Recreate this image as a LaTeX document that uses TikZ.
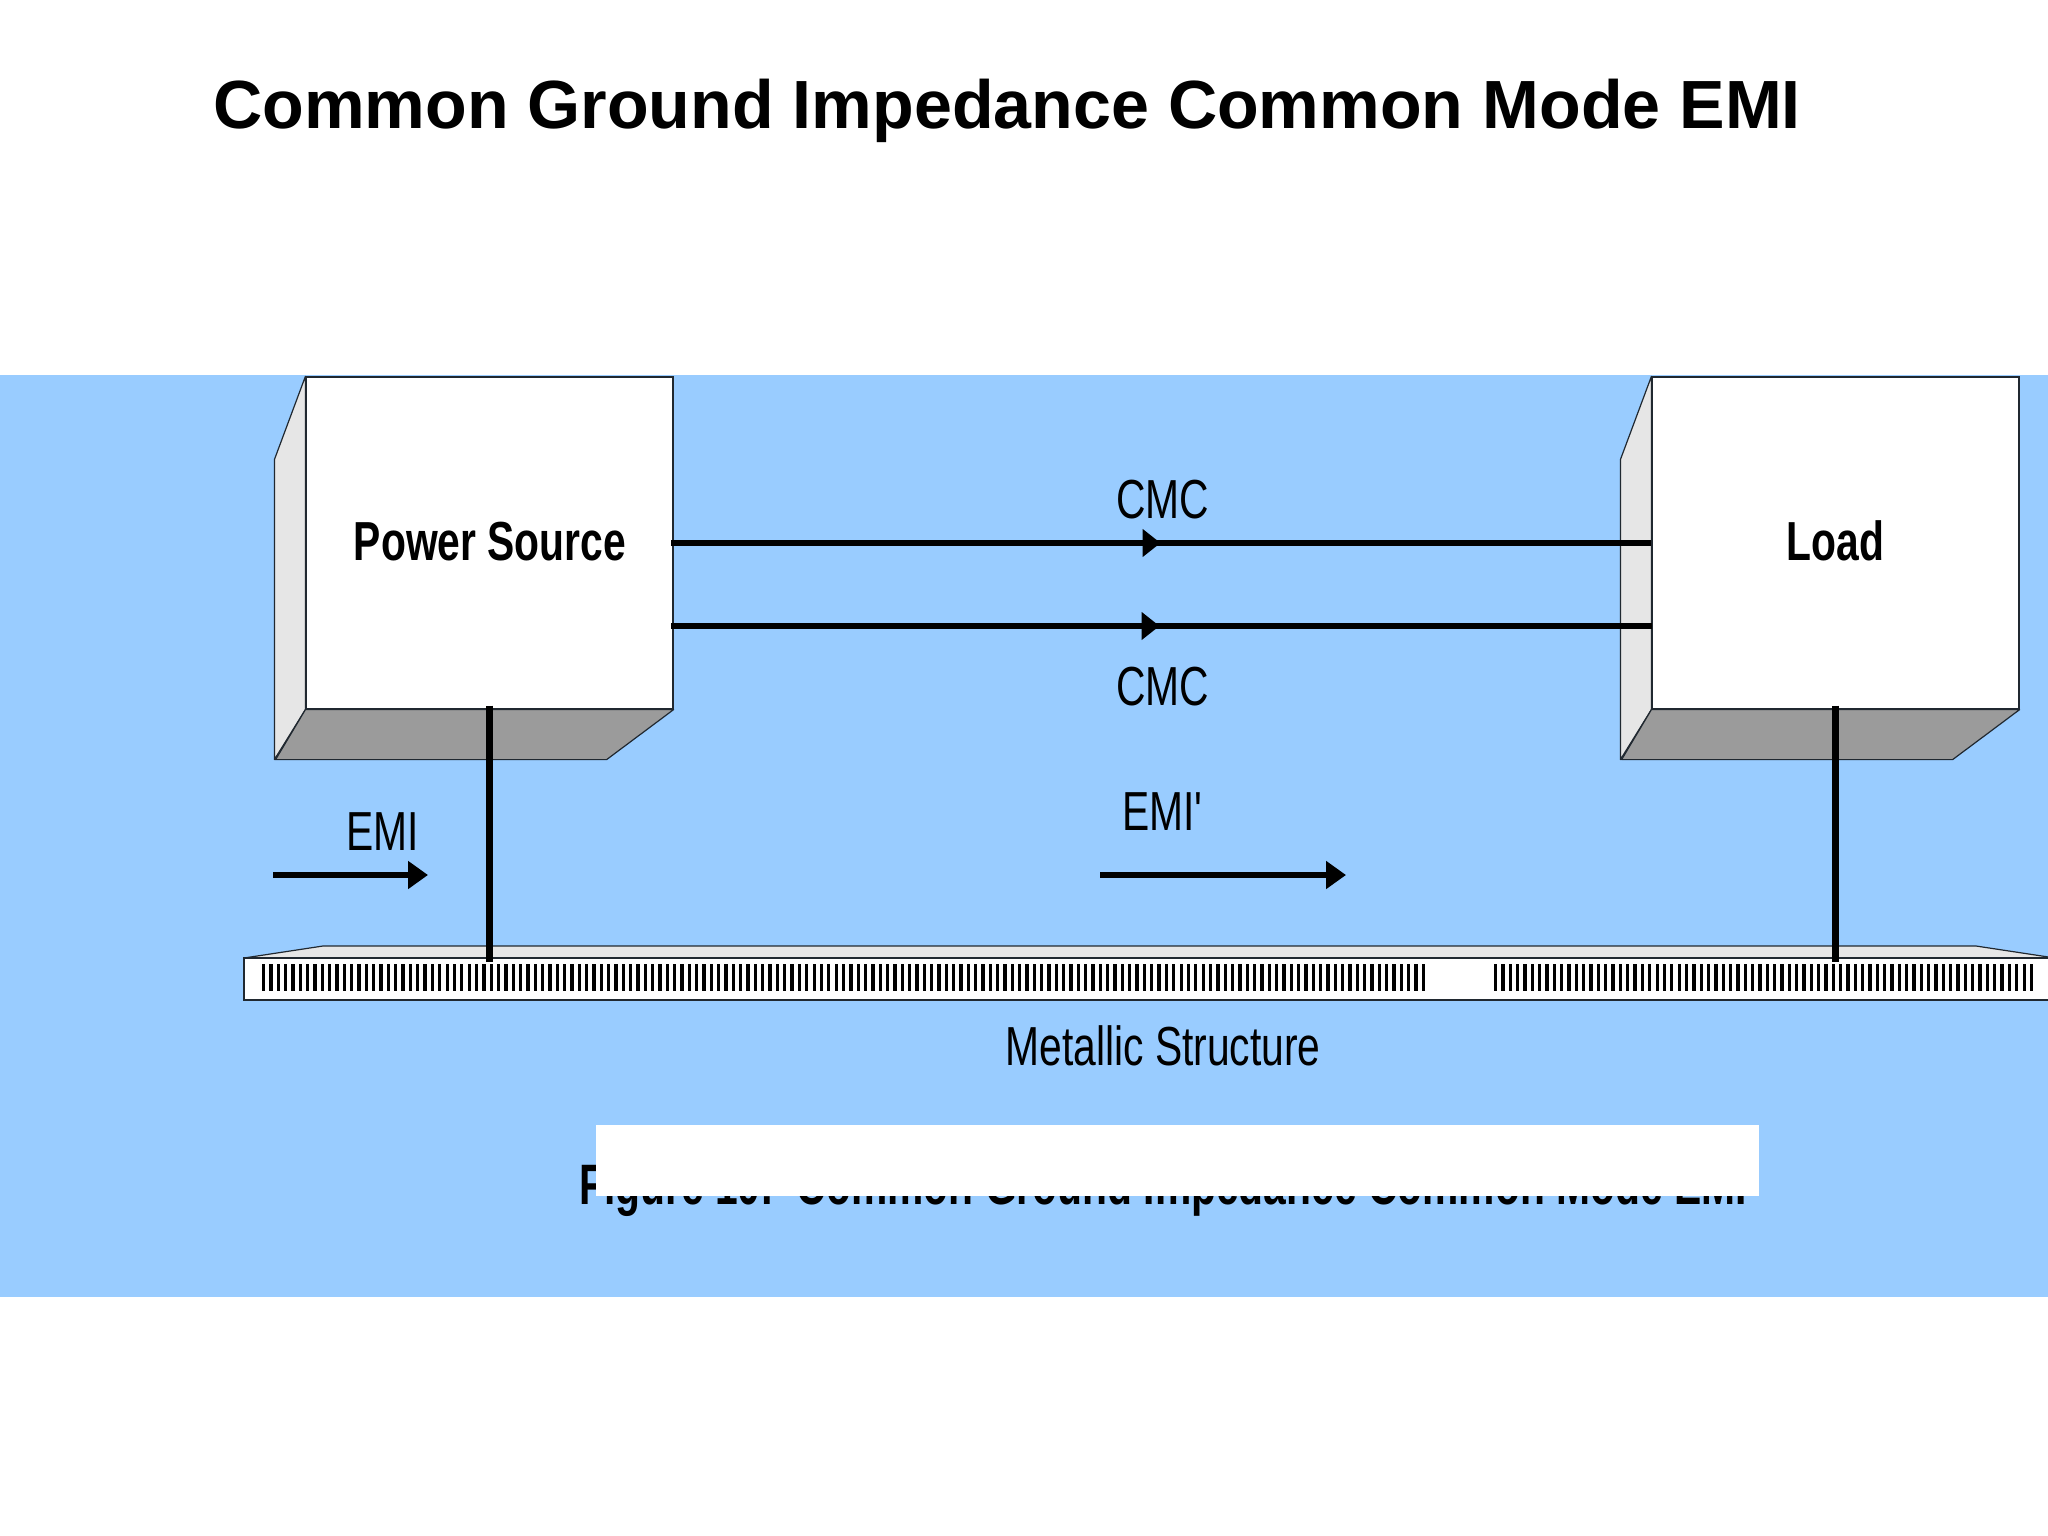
\documentclass[tikz,border=0pt]{standalone}
\usepackage{fontspec}
\setmainfont{Liberation Sans}
\newfontfamily\narrowfont[FakeStretch=0.742]{Liberation Sans}
\newfontfamily\captionfont[FakeStretch=0.716]{Liberation Sans}
\usetikzlibrary{calc}
\usetikzlibrary{positioning,decorations.markings}
\usetikzlibrary{arrows.meta}

\definecolor{bandblue}{HTML}{99CCFF}
\definecolor{sidegrey}{HTML}{E6E6E6}
\definecolor{basegrey}{HTML}{9B9B9B}
\definecolor{edgegrey}{HTML}{202830}

\begin{document}
\begin{tikzpicture}[x=1pt,y=-1pt,
  front/.style={rectangle,draw=edgegrey,line width=1.2pt,fill=white,minimum width=367pt,minimum height=332pt,inner sep=0pt},
  face/.style={draw=edgegrey,line width=1.2pt,line join=round},
  heavy/.style={font=\narrowfont\fontsize{55pt}{60pt}\selectfont\bfseries,anchor=base},
  lbl/.style={font=\narrowfont\fontsize{55pt}{60pt}\selectfont,anchor=base},
  wire/.style={line width=5.5pt,shorten <=-2.5pt,postaction={decorate},decoration={markings,mark=at position 0.498 with {\arrow{Triangle[length=18pt,width=27pt]}}}},
  flow/.style={line width=5.5pt,-{Triangle[length=20pt,width=27pt]}},
  post/.style={line width=7.5pt},
 ]

 \useasboundingbox (0,0) rectangle (2048,1536);
 \clip (0,0) rectangle (2048,1536);
 \fill[white] (0,0) rectangle (2048,1536);
 \fill[bandblue] (0,375) rectangle (2048,1297);

 \node[font=\fontsize{68.2pt}{72pt}\selectfont\bfseries,anchor=base] (title) at (1007,129) {Common Ground Impedance Common Mode EMI};

 \node[front] (psrc) at (489.5,543) {};
 \node[front] (load) at (1835.5,543) {};

 % side and floor of both cases
 \foreach \b in {psrc,load} {
  \draw[face,fill=sidegrey] (\b.north west) -- (\b.south west) -- ++(-31,50) -- ++(0,-300) -- cycle;
  \draw[face,fill=basegrey] (\b.south west) -- (\b.south east) -- ++(-67,50) -- ++(-331,0) -- cycle;
 }

 \node[heavy] (psrctext) at (490,560) {Power Source};
 \node[heavy] (loadtext) at (1835.5,560) {Load};

 \node[lbl] (cmctop) at (1162.5,518) {CMC};
 \node[lbl] (cmcbot) at (1162.5,705) {CMC};
 \node[lbl] (emi) at (382.5,850) {EMI};
 \node[lbl] (emip) at (1162.5,830) {EMI'};
 \node[lbl] (metaltext) at (1163,1065) {Metallic Structure};

 \coordinate (lowa) at (671,626);
 \coordinate (lowb) at (1652,626);
 \draw[wire] (psrc.east) -- (load.west);
 \draw[wire,shorten <=0pt] (lowa) -- (lowb);

 \coordinate (emia) at (273,875);
 \coordinate (emib) at (428,875);
 \coordinate (emipa) at (1100,875);
 \coordinate (emipb) at (1346,875);
 \draw[flow] (emia) -- (emib);
 \draw[flow] (emipa) -- (emipb);

 % metal plate, runs off the page
 \draw[face,fill=sidegrey] (244,958) -- (323,946) -- (1976,946) -- (2055,958) -- cycle;
 \node[rectangle,draw=edgegrey,line width=1.2pt,fill=white,minimum width=1811pt,minimum height=42pt,inner sep=0pt] (metal) at (1149.5,979) {};

 \foreach \i in {0,...,158} \fill (262+\i*7.34,964) rectangle ++(3.3,27);
 \foreach \i in {0,...,73} \fill (1494+\i*7.34,964) rectangle ++(3.3,27);

 \draw[post,shorten <=-4pt,shorten >=-5pt] (psrc.south) -- (psrc.south |- metal.north);
 \draw[post,shorten <=-4pt,shorten >=-5pt] (load.south) -- (load.south |- metal.north);

 % caption half hidden by the white strip
 \node[font=\captionfont\fontsize{57pt}{60pt}\selectfont\bfseries,anchor=base] (caption) at (1163,1204) {Figure 10:\ \ Common Ground Impedance Common Mode EMI};
 \node[rectangle,fill=white,minimum width=1163pt,minimum height=71pt,inner sep=0pt] (strip) at (1177.5,1160.5) {};

 \end{tikzpicture}
\end{document}
